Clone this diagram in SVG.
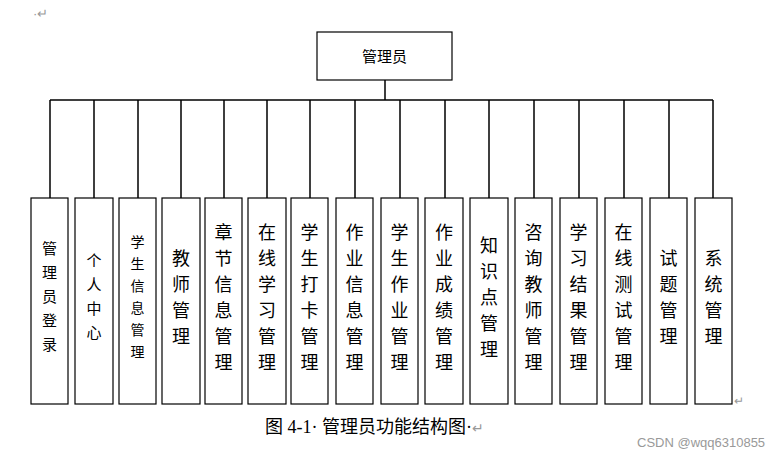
<svg xmlns="http://www.w3.org/2000/svg" width="783" height="455" viewBox="0 0 783 455">
<style>
.box{fill:#fff;stroke:#000;stroke-width:1.2}
.c{fill:none;stroke:#000;stroke-width:1.5}
.t{font-family:"Noto Sans CJK SC",sans-serif;fill:#000;writing-mode:vertical-rl;text-anchor:middle}
.b{font-size:18px;letter-spacing:8px}
.s{font-size:15px;letter-spacing:9px}
.m{font-family:"Liberation Sans",sans-serif;fill:#999}
</style>
<rect width="783" height="455" fill="#fff"/>
<text x="33" y="18" class="m" font-size="13">·↵</text>
<g id="root"><rect class="box" x="317" y="32" width="135" height="48"/>
<text x="384.5" y="62" font-family="Noto Sans CJK SC,sans-serif" font-size="15" text-anchor="middle">管理员</text></g>
<g id="connectors">
<path class="c" d="M385 80V100M50 100H713M50 100V198M94 100V198M138 100V198M181 100V198M224 100V198M267 100V198M310 100V198M355 100V198M400 100V198M445 100V198M489 100V198M534 100V198M579 100V198M624 100V198M669 100V198M713 100V198"/>
</g>
<g id="n1"><rect class="box" x="31" y="198" width="37" height="206"/><text class="t s" x="49.5" y="301" style="letter-spacing:9px">管理员登录</text></g>
<g id="n2"><rect class="box" x="75" y="198" width="38" height="206"/><text class="t s" x="94" y="301">个人中心</text></g>
<g id="n3"><rect class="box" x="119" y="198" width="37" height="206"/><text class="t" x="137.5" y="301" style="font-size:14px;letter-spacing:8px">学生信息管理</text></g>
<g id="n4"><rect class="box" x="162" y="198" width="38" height="206"/><text class="t b" x="181" y="301">教师管理</text></g>
<g id="n5"><rect class="box" x="205" y="198" width="37" height="206"/><text class="t b" x="223.5" y="301">章节信息管理</text></g>
<g id="n6"><rect class="box" x="248" y="198" width="38" height="206"/><text class="t b" x="267" y="301">在线学习管理</text></g>
<g id="n7"><rect class="box" x="291" y="198" width="37" height="206"/><text class="t b" x="309.5" y="301">学生打卡管理</text></g>
<g id="n8"><rect class="box" x="336" y="198" width="37" height="206"/><text class="t b" x="354.5" y="301">作业信息管理</text></g>
<g id="n9"><rect class="box" x="381" y="198" width="37" height="206"/><text class="t b" x="399.5" y="301">学生作业管理</text></g>
<g id="n10"><rect class="box" x="425" y="198" width="38" height="206"/><text class="t b" x="444" y="301">作业成绩管理</text></g>
<g id="n11"><rect class="box" x="470" y="198" width="38" height="206"/><text class="t b" x="489" y="301">知识点管理</text></g>
<g id="n12"><rect class="box" x="515" y="198" width="37" height="206"/><text class="t b" x="533.5" y="301">咨询教师管理</text></g>
<g id="n13"><rect class="box" x="560" y="198" width="37" height="206"/><text class="t b" x="578.5" y="301">学习结果管理</text></g>
<g id="n14"><rect class="box" x="605" y="198" width="37" height="206"/><text class="t b" x="623.5" y="301">在线测试管理</text></g>
<g id="n15"><rect class="box" x="650" y="198" width="37" height="206"/><text class="t b" x="668.5" y="301">试题管理</text></g>
<g id="n16"><rect class="box" x="695" y="198" width="37" height="206"/><text class="t b" x="713.5" y="301">系统管理</text></g>
<text x="734" y="405" class="m" font-size="12">↵</text>
<text x="265" y="433" font-family="Liberation Serif,Noto Sans CJK SC,serif" font-size="18" fill="#000">图 4-1· 管理员功能结构图·<tspan fill="#999" font-size="14">↵</tspan></text>
<text x="637" y="447" class="m" font-size="13" fill="#bbb">CSDN @wqq6310855</text>
</svg>
